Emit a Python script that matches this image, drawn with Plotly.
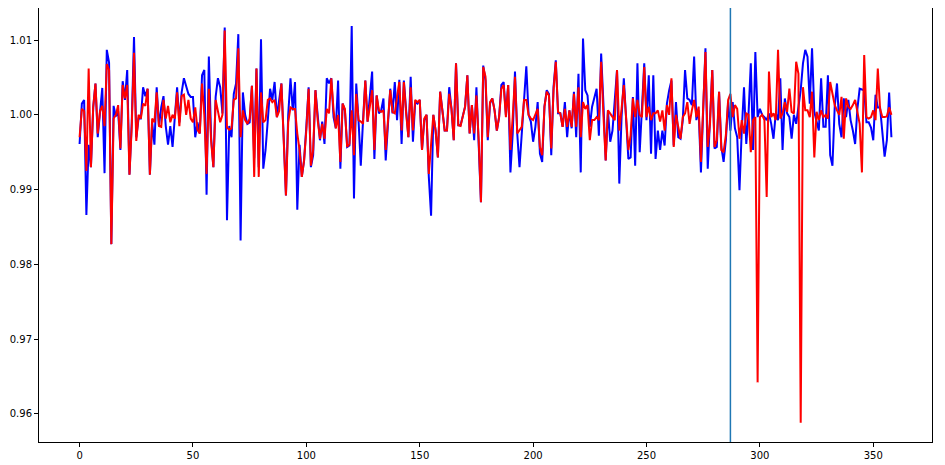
import plotly.graph_objects as go

# ---- data ----
blue_values = (
    [0.9961, 1.0015, 1.0020, 0.9866, 0.9960, 0.9930, 1.0010, 1.0042, 0.9970, 1.0005,
     1.0036, 0.9922, 1.0087, 1.0070, 0.9827, 1.0012, 0.9998, 1.0005, 0.9953, 1.0045,
     1.0020, 1.0060, 0.9920, 0.9990, 1.0104, 0.9970, 0.9995, 0.9995, 1.0037, 1.0025,
     1.0035, 0.9920, 0.9990, 0.9960, 1.0037, 0.9985, 1.0010, 1.0025, 0.9985, 0.9960,
     0.9985, 0.9957, 1.0000, 1.0037, 0.9990, 1.0030, 1.0049, 1.0037]
    + [1.0028, 1.0024, 1.0024, 0.9970, 0.9990, 0.9975, 1.0053, 1.0060, 0.9893, 1.0078,
       0.9970, 0.9930, 1.0024, 1.0049, 1.0037, 1.0002, 1.0117, 0.9859, 0.9985, 0.9970,
       1.0028, 1.0042, 1.0108, 0.9832, 1.0030, 1.0000, 0.9988, 0.9990, 1.0039, 0.9942,
       1.0062, 0.9930, 1.0101, 0.9928, 0.9953, 0.9993, 1.0035, 1.0020, 1.0044, 0.9997,
       1.0020, 1.0042, 0.9970, 0.9892, 1.0000, 1.0049, 1.0006, 1.0044, 0.9873]
    + [0.9960, 0.9917, 0.9939, 0.9985, 1.0037, 0.9930, 0.9946, 1.0033, 0.9993, 0.9966,
       0.9991, 0.9961, 1.0049, 1.0042, 1.0049, 0.9997, 0.9982, 1.0046, 0.9928, 1.0015,
       1.0006, 0.9957, 0.9959, 1.0119, 0.9888, 1.0042, 0.9993, 0.9932, 0.9993, 1.0046,
       0.9991, 1.0024, 1.0058, 0.9941, 1.0026, 1.0002, 1.0006, 1.0022, 0.9939, 0.9988,
       1.0035, 1.0002, 1.0044, 0.9993, 1.0047, 0.9961, 1.0046, 1.0006, 0.9970, 1.0051,
       0.9964, 1.0017, 1.0015, 1.0020]
    + [0.9953, 0.9993, 1.0000, 0.9917, 0.9865, 1.0000, 0.9979, 0.9943, 1.0031, 1.0006,
       0.9979, 0.9979, 1.0037, 1.0008, 0.9966, 1.0069, 0.9986, 0.9986, 0.9997, 1.0011,
       1.0053, 0.9975, 1.0013, 0.9966, 1.0037, 0.9961, 0.9883, 1.0066, 1.0046, 0.9966,
       1.0015, 1.0022, 1.0006, 0.9979, 0.9997, 1.0040, 1.0044, 1.0000, 1.0040, 0.9923,
       0.9975, 1.0058, 0.9975, 0.9930, 0.9979, 1.0022, 1.0065]
    + [1.0000, 0.9991, 0.9964, 0.9984, 1.0017, 0.9948, 0.9937, 1.0011, 1.0033, 1.0028,
       0.9946, 1.0037, 1.0073, 1.0002, 1.0002, 0.9984, 1.0017, 0.9970, 1.0006, 0.9982,
       1.0031, 0.9970, 1.0055, 0.9923, 1.0102, 1.0033, 1.0026, 0.9984, 1.0011, 1.0022,
       1.0035, 0.9972, 1.0082, 1.0015, 0.9939, 1.0006, 0.9964, 0.9979, 1.0015, 1.0060,
       0.9908, 0.9997, 1.0049, 0.9993, 0.9941, 0.9943, 1.0024, 0.9932, 1.0069, 0.9950,
       1.0011]
    + [1.0069, 0.9993, 1.0053, 0.9948, 1.0053, 0.9941, 0.9979, 0.9953, 0.9979, 0.9959,
       1.0015, 1.0033, 1.0046, 0.9959, 1.0017, 0.9970, 0.9968, 0.9993, 1.0060, 1.0022,
       1.0020, 1.0013, 1.0078, 0.9993, 1.0006, 0.9923, 1.0022, 1.0089, 0.9928, 0.9993,
       1.0060, 0.9955, 0.9957, 1.0031, 0.9957, 0.9937, 0.9966, 1.0017, 0.9979, 1.0017,
       0.9982, 0.9970, 0.9899, 0.9979, 1.0037, 0.9961, 1.0002, 1.0069, 0.9953, 1.0084]
    + [0.9997, 1.0008, 1.0000, 0.9997, 0.9993, 1.0002, 0.9988, 0.9968, 1.0002, 0.9993,
       1.0049, 0.9953, 1.0022, 1.0002, 0.9997, 0.9968, 1.0000, 0.9988, 1.0011, 1.0033,
       1.0069, 1.0087, 1.0078, 1.0015, 1.0089, 1.0004, 0.9991, 0.9979, 1.0049, 0.9984,
       0.9984, 1.0053, 0.9946, 0.9932, 1.0011, 1.0042, 0.9988, 0.9970, 1.0022, 0.9997,
       1.0020, 0.9993, 0.9979, 0.9961, 1.0008]
    + [1.0035, 1.0034, 1.0033, 0.9990, 0.9990, 0.9983, 0.9966, 1.0027, 1.0010, 1.0010,
       0.9977, 0.9944, 0.9966, 1.0030, 0.9970]
)

red_values = (
    [0.9970, 1.0008, 1.0005, 0.9925, 1.0062, 0.9930, 1.0010, 1.0042, 0.9975, 1.0005,
     1.0012, 0.9985, 1.0068, 1.0060, 0.9827, 0.9995, 1.0000, 1.0013, 0.9955, 1.0040,
     1.0022, 1.0040, 0.9920, 0.9985, 1.0083, 0.9965, 1.0000, 0.9995, 1.0015, 1.0012,
     1.0035, 0.9920, 0.9995, 0.9990, 1.0030, 0.9985, 0.9984, 1.0020, 0.9995, 1.0012,
     0.9990, 1.0000, 0.9995, 1.0030, 0.9985, 1.0025, 1.0027, 1.0000]
    + [1.0020, 0.9995, 0.9990, 1.0010, 0.9980, 0.9975, 1.0042, 1.0000, 0.9921, 1.0035,
       0.9965, 0.9930, 1.0020, 1.0005, 0.9990, 1.0000, 1.0113, 0.9983, 0.9980, 0.9982,
       1.0020, 1.0022, 1.0089, 0.9970, 1.0006, 0.9993, 0.9988, 0.9995, 1.0039, 0.9917,
       1.0062, 0.9917, 1.0030, 0.9990, 0.9993, 1.0020, 1.0022, 1.0017, 1.0020, 0.9997,
       1.0005, 1.0042, 0.9960, 0.9892, 0.9990, 1.0010, 1.0008, 1.0008, 0.9975]
    + [0.9953, 0.9917, 0.9939, 0.9980, 1.0035, 0.9932, 0.9953, 1.0033, 0.9993, 0.9968,
       0.9988, 0.9968, 1.0008, 1.0002, 1.0049, 1.0006, 0.9982, 1.0000, 0.9937, 1.0015,
       1.0008, 0.9957, 0.9961, 1.0006, 0.9946, 1.0028, 0.9993, 0.9991, 0.9988, 1.0046,
       0.9991, 1.0011, 1.0033, 0.9953, 1.0026, 1.0006, 1.0004, 1.0006, 0.9953, 0.9993,
       1.0033, 1.0004, 1.0002, 1.0024, 1.0044, 0.9979, 1.0044, 1.0002, 0.9970, 1.0037,
       0.9979, 1.0020, 1.0017, 1.0020]
    + [0.9953, 0.9995, 1.0000, 0.9921, 0.9957, 1.0000, 0.9979, 0.9943, 1.0031, 1.0006,
       0.9979, 0.9979, 1.0028, 1.0008, 0.9966, 1.0069, 0.9986, 0.9985, 0.9997, 1.0011,
       1.0053, 0.9975, 1.0013, 0.9975, 1.0026, 0.9966, 0.9883, 1.0064, 1.0051, 0.9970,
       1.0017, 1.0022, 1.0006, 0.9979, 0.9997, 1.0035, 1.0040, 0.9997, 1.0040, 0.9953,
       0.9997, 1.0051, 0.9975, 0.9979, 0.9984, 1.0020, 1.0020]
    + [1.0000, 0.9995, 0.9993, 1.0000, 1.0008, 0.9957, 0.9946, 1.0011, 1.0031, 1.0026,
       0.9955, 1.0033, 1.0071, 1.0004, 1.0002, 0.9984, 1.0008, 0.9984, 1.0006, 0.9984,
       1.0028, 0.9984, 1.0037, 0.9970, 1.0017, 1.0008, 1.0013, 0.9966, 0.9993, 0.9993,
       0.9997, 0.9993, 1.0071, 1.0000, 0.9939, 1.0006, 1.0002, 0.9997, 0.9993, 1.0060,
       0.9979, 1.0008, 1.0040, 0.9997, 0.9953, 0.9973, 1.0022, 0.9997, 1.0020, 1.0000,
       0.9997]
    + [1.0064, 0.9997, 1.0011, 0.9993, 1.0002, 1.0002, 1.0006, 0.9991, 1.0006, 0.9979,
       1.0013, 1.0000, 1.0049, 0.9957, 1.0000, 0.9984, 0.9968, 0.9997, 1.0002, 1.0017,
       0.9988, 1.0006, 1.0020, 0.9997, 1.0011, 0.9937, 1.0024, 1.0084, 0.9957, 0.9988,
       1.0060, 0.9957, 0.9966, 1.0031, 0.9953, 0.9950, 0.9973, 1.0020, 1.0028, 0.9997,
       1.0013, 1.0008, 0.9968, 0.9993, 0.9975, 1.0002, 1.0000, 0.9950, 0.9993, 0.9997]
    + [0.9642, 0.9997, 1.0000, 0.9993, 0.9890, 1.0058, 0.9997, 1.0002, 0.9993, 1.0087,
       0.9995, 1.0002, 1.0017, 1.0004, 1.0035, 1.0004, 1.0002, 1.0071, 1.0055, 0.9588,
       1.0037, 1.0006, 1.0006, 0.9997, 1.0031, 0.9943, 1.0004, 0.9993, 1.0006, 0.9997,
       1.0000, 0.9995, 1.0044, 1.0028, 1.0013, 1.0006, 1.0000, 1.0024, 0.9968, 1.0022,
       1.0011, 1.0008, 1.0013, 1.0020, 1.0006]
    + [0.9988, 0.9923, 1.0080, 0.9997, 0.9995, 0.9997, 1.0006, 0.9993, 1.0062, 1.0008,
       0.9997, 0.9997, 0.9998, 1.0010, 1.0000]
)

x_index = list(range(len(blue_values)))
split_index = 287

x_ticks = [0, 50, 100, 150, 200, 250, 300, 350]
y_ticks = [0.96, 0.97, 0.98, 0.99, 1.00, 1.01]
y_tick_labels = ["0.96", "0.97", "0.98", "0.99", "1.00", "1.01"]

# ---- figure ----
fig = go.Figure()
fig.add_trace(go.Scatter(x=x_index, y=blue_values, mode="lines",
                         line=dict(color="blue", width=2), showlegend=False))
fig.add_trace(go.Scatter(x=list(range(len(red_values))), y=red_values, mode="lines",
                         line=dict(color="red", width=2), showlegend=False))

fig.add_shape(type="line", x0=split_index, x1=split_index, xref="x",
              y0=0, y1=1, yref="paper", line=dict(color="#1f77b4", width=1.5))

axis_common = dict(showline=True, mirror=True, linecolor="black", linewidth=1,
                   ticks="outside", ticklen=4, tickwidth=1, tickcolor="black",
                   showgrid=False, zeroline=False,
                   tickfont=dict(family="DejaVu Sans", size=10, color="black"))

fig.update_xaxes(range=[-17.9, 375.9], tickmode="array", tickvals=x_ticks, **axis_common)
fig.update_yaxes(range=[0.95622, 1.0143], tickmode="array", tickvals=y_ticks,
                 ticktext=y_tick_labels, **axis_common)

# the page body adds an 8px offset, so the figure is sized to fit the window
fig.update_layout(width=937, height=457,
                  margin=dict(l=31, r=13, t=0, b=23),
                  paper_bgcolor="white", plot_bgcolor="white",
                  showlegend=False)

fig.write_html("out.html")
